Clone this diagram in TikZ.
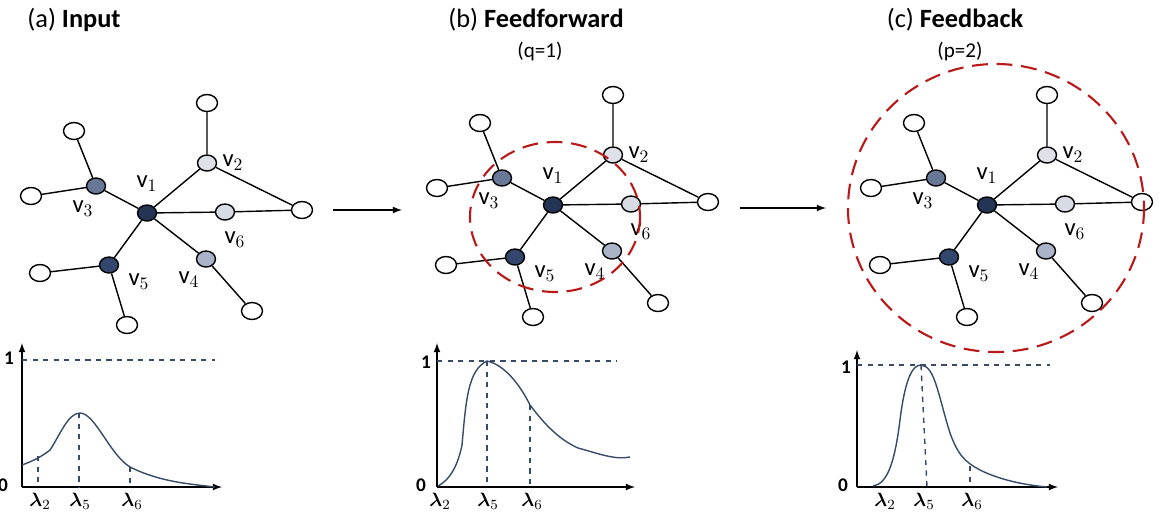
\documentclass[tikz,border=0pt]{standalone}
\usepackage{fontspec}
\usepackage{bm}
\setmainfont{Carlito}
\usetikzlibrary{arrows}
\usetikzlibrary{shapes.geometric}
\tikzset{>={latex}}
\definecolor{navy}{RGB}{35,52,85}
\definecolor{curvec}{RGB}{55,75,105}
\definecolor{redc}{RGB}{185,25,25}
\tikzstyle{leaf}=[ellipse, draw, thick, fill=white, minimum width=0.42cm, minimum height=0.34cm, inner sep=0pt]
\tikzstyle{vert}=[ellipse, draw, thick, minimum width=0.38cm, minimum height=0.32cm, inner sep=0pt]
\tikzstyle{lab}=[font=\fontsize{14}{14}\selectfont, inner sep=0pt]
\tikzstyle{lam}=[font=\bfseries\fontsize{11}{11}\selectfont, inner sep=0pt]
\tikzstyle{ttl}=[font=\fontsize{15}{15}\selectfont, inner sep=0pt]
\tikzstyle{guide}=[dashed, curvec, thick]

\begin{document}
\begin{tikzpicture}[x=0.02cm, y=-0.02cm]
	\useasboundingbox (0,0) rectangle (1159,515);

	% the three graphs
	\foreach \p/\dx/\dy in {a/0/0, b/406/-8, c/840/-8} {
		\begin{scope}[shift={(\dx,\dy)}]
			\node[vert, fill=navy] (\p1) at (147,213) {};
			\node[vert, fill={rgb,255:red,222;green,226;blue,232}] (\p2) at (207,163) {};
			\node[vert, fill={rgb,255:red,105;green,120;blue,150}] (\p3) at (96,186) {};
			\node[vert, fill={rgb,255:red,170;green,180;blue,200}] (\p4) at (206,259) {};
			\node[vert, fill={rgb,255:red,50;green,70;blue,110}] (\p5) at (109,265) {};
			\node[vert, fill={rgb,255:red,215;green,220;blue,228}] (\p6) at (225,212) {};
			\node[leaf] (\p l2) at (207,103) {};
			\node[leaf] (\p l3a) at (74,131) {};
			\node[leaf] (\p l3b) at (31,196) {};
			\node[leaf] (\p r) at (302,210) {};
			\node[leaf] (\p l5a) at (40,273) {};
			\node[leaf] (\p l5b) at (127,325) {};
			\node[leaf] (\p l4) at (252,311) {};
			\draw[thick] (\p1) -- (\p2) -- (\p l2);
			\draw[thick] (\p1) -- (\p3) -- (\p l3a);
			\draw[thick] (\p3) -- (\p l3b);
			\draw[thick] (\p1) -- (\p5) -- (\p l5a);
			\draw[thick] (\p5) -- (\p l5b);
			\draw[thick] (\p1) -- (\p4) -- (\p l4);
			\draw[thick] (\p1) -- (\p6) -- (\p r) -- (\p2);
			\node[lab] at (147,184) {v$_1$};
			\node[lab] at (233,163) {v$_2$};
			\node[lab] at (83,209) {v$_3$};
			\node[lab] at (235,240) {v$_6$};
			\node[lab] at (139,282) {v$_5$};
			\node[lab] at (189,280) {v$_4$};
		\end{scope}
	}

	% titles
	\node[ttl] (ta) at (74,20) {(a) \textbf{Input}};
	\node[ttl] (tb) at (536,20) {(b) \textbf{Feedforward}};
	\node[font=\fontsize{12}{12}\selectfont] (qb) at (540,51) {(q=1)};
	\node[ttl] (tc) at (955,20) {(c) \textbf{Feedback}};
	\node[font=\fontsize{12}{12}\selectfont] (pc) at (960,51) {(p=2)};

	% neighbourhoods
	\draw[redc, very thick, dash pattern=on 9pt off 5pt] (555,217) ellipse (85 and 75);
	\draw[redc, very thick, dash pattern=on 9pt off 5pt] (996,208) ellipse (148 and 144);

	% arrows between panels
	\coordinate (a0) at (333,210);
	\coordinate (a1) at (402,210);
	\coordinate (b0) at (740,208);
	\coordinate (b1) at (826,208);
	\draw[->, thick] (a0) -- (a1);
	\draw[->, thick] (b0) -- (b1);

	% plot (a)
	\draw[->, thick] (22,487) -- (22,343);
	\draw[->, thick] (22,487) -- (222,487);
	\node[lam] at (9,358) {1};
	\node[lam] at (3,485) {0};
	\draw[guide] (22,360) -- (215,360);
	\draw[curvec, thick] (22,465) .. controls (30,462) and (40,458) .. (50,450)
		.. controls (60,435) and (68,413) .. (80,413)
		.. controls (95,413) and (110,455) .. (130,467)
		.. controls (160,482) and (190,484) .. (215,487);
	\draw[guide] (38,456) -- (38,487);
	\draw[guide] (79,413) -- (79,487);
	\draw[guide] (130,467) -- (130,487);
	\node[lam] at (40,501) {$\bm\lambda_2$};
	\node[lam] at (80,501) {$\bm\lambda_5$};
	\node[lam] at (132,501) {$\bm\lambda_6$};

	% plot (b)
	\draw[->, thick] (437,487) -- (437,343);
	\draw[->, thick] (437,487) -- (635,487);
	\node[lam] at (426,362) {1};
	\node[lam] at (421,485) {0};
	\draw[guide] (437,361) -- (617,361);
	\draw[curvec, thick] (438,486) .. controls (450,480) and (458,465) .. (462,445)
		.. controls (466,400) and (468,370) .. (487,361)
		.. controls (505,365) and (520,385) .. (530,405)
		.. controls (545,425) and (560,440) .. (578,448)
		.. controls (600,454) and (615,460) .. (630,457);
	\draw[guide] (487,361) -- (487,487);
	\draw[guide] (530,405) -- (530,487);
	\node[lam] at (440,501) {$\bm\lambda_2$};
	\node[lam] at (488,501) {$\bm\lambda_5$};
	\node[lam] at (532,501) {$\bm\lambda_6$};

	% plot (c)
	\draw[->, thick] (857,487) -- (857,350);
	\draw[->, thick] (857,487) -- (1058,487);
	\node[lam] at (846,367) {1};
	\node[lam] at (843,485) {0};
	\draw[guide] (857,365) -- (1050,365);
	\draw[curvec, thick] (873,486) .. controls (888,484) and (895,460) .. (900,420)
		.. controls (905,380) and (912,365) .. (921,365)
		.. controls (935,366) and (938,395) .. (950,433)
		.. controls (958,455) and (965,462) .. (980,470)
		.. controls (1000,480) and (1025,485) .. (1047,487);
	\draw[guide] (921,365) -- (927,487);
	\draw[guide] (970,466) -- (970,487);
	\node[lam] at (885,501) {$\bm\lambda_2$};
	\node[lam] at (924,501) {$\bm\lambda_5$};
	\node[lam] at (972,501) {$\bm\lambda_6$};
\end{tikzpicture}
\end{document}
